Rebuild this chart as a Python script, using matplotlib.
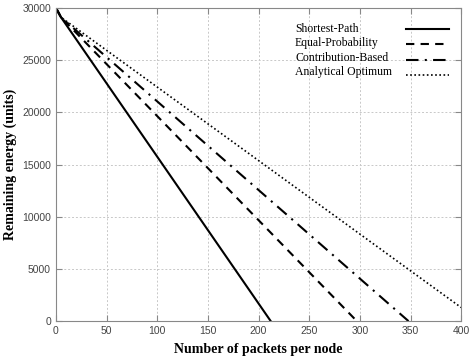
import matplotlib
matplotlib.use("Agg")
import matplotlib.pyplot as plt

# series: packets per node -> remaining energy
labels = ["Shortest-Path", "Equal-Probability", "Contribution-Based", "Analytical Optimum"]
shortest_x = [0, 5, 212]
shortest_y = [30000, 29100, 0]
equal_x = [0, 5, 297]
equal_y = [30000, 29100, 0]
contrib_x = [0, 5, 348]
contrib_y = [30000, 29100, 0]
optimum_x = [0, 5, 400]
optimum_y = [30000, 29100, 1300]

xticks = [0, 50, 100, 150, 200, 250, 300, 350, 400]
yticks = [0, 5000, 10000, 15000, 20000, 25000, 30000]

fig = plt.figure(figsize=(4.74, 3.58), dpi=100)
ax = fig.add_axes([0.118, 0.103, 0.855, 0.875])

lines = []
lines += ax.plot(shortest_x, shortest_y, color="black", lw=1.5, ls="-")
lines += ax.plot(equal_x, equal_y, color="black", lw=1.5, ls=(0, (4, 3)))
lines += ax.plot(contrib_x, contrib_y, color="black", lw=1.5, ls=(0, (6, 3, 1, 3)))
lines += ax.plot(optimum_x, optimum_y, color="black", lw=1.2, ls=(0, (1, 1.5)))

ax.set_xlim(0, 400)
ax.set_ylim(0, 30000)
ax.set_xticks(xticks)
ax.set_yticks(yticks)
ax.grid(True, color="#c8c8c8", ls=(0, (2, 2)), lw=0.7)
ax.tick_params(direction="in", top=True, right=True, colors="#888888",
               labelcolor="#444444", labelsize=7.5, length=4)
for lab in ax.get_xticklabels() + ax.get_yticklabels():
    lab.set_family("Liberation Sans")
for s in ax.spines.values():
    s.set_color("#888888")

serif = {"family": "Liberation Serif", "weight": "bold", "size": 10}
ax.set_xlabel("Number of packets per node", fontdict=serif, labelpad=5)
ax.set_ylabel("Remaining energy (units)", fontdict=serif, labelpad=4)

# gnuplot-style key: left-aligned text, line samples on the right
leg = ax.legend(lines, [""] * len(labels), loc="upper left",
                bbox_to_anchor=(0.865, 0.952), frameon=False,
                handlelength=3.6, handletextpad=0, borderpad=0,
                borderaxespad=0, labelspacing=0.2, fontsize=8.5)
for i, name in enumerate(labels):
    ax.text(0.59, 0.933 - i * 0.046, name, transform=ax.transAxes,
            family="Liberation Serif", size=8.5, va="center", ha="left")

fig.savefig("out.png", dpi=100)
